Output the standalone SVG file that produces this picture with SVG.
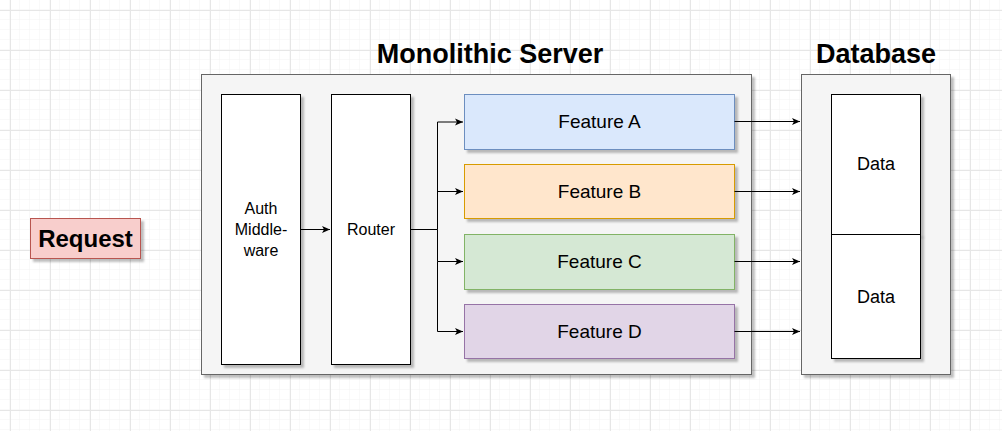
<svg xmlns="http://www.w3.org/2000/svg" width="1002" height="431" viewBox="0 0 1002 431">
<defs>
<pattern id="minor" width="10" height="10" patternUnits="userSpaceOnUse"><path d="M10 0V10M0 10H10" fill="none" stroke="#f3f3f3" stroke-width="1"/></pattern>
<pattern id="major" x="10" y="10" width="40" height="40" patternUnits="userSpaceOnUse"><rect width="40" height="40" fill="url(#minor)"/><path d="M0.5 0V40M0 0.5H40" fill="none" stroke="#e6e6e6" stroke-width="1"/></pattern>
<marker id="ah" markerWidth="10" markerHeight="10" refX="9" refY="5" orient="auto" markerUnits="userSpaceOnUse"><path d="M1 1.5L9 5L1 8.5L3 5Z" fill="#000"/></marker>
<filter id="sh" x="-10%" y="-10%" width="130%" height="130%"><feDropShadow dx="3" dy="3" stdDeviation="0.8" flood-color="#000" flood-opacity="0.25"/></filter>
</defs>
<style>
text{font-family:"Liberation Sans",Arial,sans-serif;fill:#000}
.t{font-size:16px;text-anchor:middle}
.h{font-size:27px;font-weight:bold;text-anchor:middle}
.c{fill:#f5f5f5;stroke:#666;filter:url(#sh)}
.w{fill:#fff;stroke:#000;filter:url(#sh)}
.e{fill:none;stroke:#000;stroke-width:1}
</style>
<rect width="1002" height="431" fill="#fff"/>
<rect width="1002" height="431" fill="url(#major)"/>
<text class="h" x="490" y="63">Monolithic Server</text>
<text class="h" x="876" y="63">Database</text>
<g id="request"><rect x="30.5" y="218.5" width="110" height="40" fill="#f8cecc" stroke="#b85450" filter="url(#sh)"/><text x="85.5" y="247" style="font-size:24px;font-weight:bold;text-anchor:middle">Request</text></g>
<g id="server"><rect class="c" x="201.5" y="74.5" width="550" height="300"/></g>
<g id="database"><rect class="c" x="801.5" y="74.5" width="149" height="300"/></g>
<g id="auth"><rect class="w" x="221.5" y="94.5" width="79" height="270"/><text class="t" x="261" y="214">Auth</text><text class="t" x="261" y="235">Middle-</text><text class="t" x="261" y="256">ware</text></g>
<g id="router"><rect class="w" x="331.5" y="94.5" width="79" height="270"/><text class="t" x="371" y="235">Router</text></g>
<g id="featA"><rect x="464.5" y="94.5" width="270" height="55" fill="#dae8fc" stroke="#6c8ebf" filter="url(#sh)"/><text x="599.5" y="128" class="t" style="font-size:19px">Feature A</text></g>
<g id="featB"><rect x="464.5" y="164.5" width="270" height="54" fill="#ffe6cc" stroke="#d79b00" filter="url(#sh)"/><text x="599.5" y="198" class="t" style="font-size:19px">Feature B</text></g>
<g id="featC"><rect x="464.5" y="234.5" width="270" height="55" fill="#d5e8d4" stroke="#82b366" filter="url(#sh)"/><text x="599.5" y="268" class="t" style="font-size:19px">Feature C</text></g>
<g id="featD"><rect x="464.5" y="304.5" width="270" height="54" fill="#e1d5e7" stroke="#9673a6" filter="url(#sh)"/><text x="599.5" y="338" class="t" style="font-size:19px">Feature D</text></g>
<g id="data1"><rect class="w" x="831.5" y="94.5" width="89" height="140"/><text class="t" x="876" y="170" style="font-size:18px">Data</text></g>
<g id="data2"><rect class="w" x="831.5" y="234.5" width="89" height="124"/><text class="t" x="876" y="303" style="font-size:18px">Data</text></g>
<g id="connectors">
<path class="e" d="M300.5 229.5H330" marker-end="url(#ah)"/>
<path class="e" d="M410.5 229.5H437.5V122H463" marker-end="url(#ah)"/>
<path class="e" d="M437.5 191.5H463" marker-end="url(#ah)"/>
<path class="e" d="M437.5 229.5V261.5H463" marker-end="url(#ah)"/>
<path class="e" d="M437.5 261.5V331.5H463" marker-end="url(#ah)"/>
<path class="e" d="M734.5 121.5H800" marker-end="url(#ah)"/>
<path class="e" d="M734.5 191.5H800" marker-end="url(#ah)"/>
<path class="e" d="M734.5 261.5H800" marker-end="url(#ah)"/>
<path class="e" d="M734.5 331.5H800" marker-end="url(#ah)"/>
</g>
</svg>
